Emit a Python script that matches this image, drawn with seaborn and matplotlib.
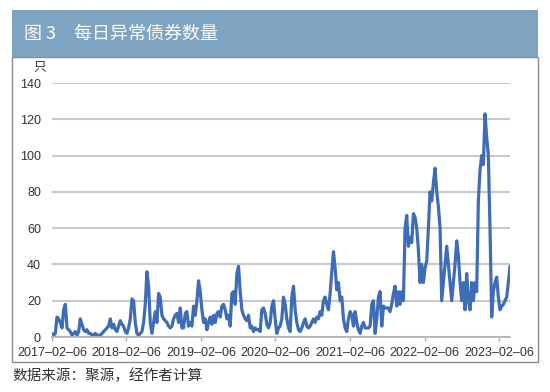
import matplotlib
matplotlib.use("Agg")
import matplotlib.pyplot as plt
from matplotlib.patches import Rectangle
import seaborn as sns
import pandas as pd

# ---- data (approx. every 8 days) ----
start_date = "2017-02-06"
end_date = "2023-04-01"
seg_2017_2019 = [2, 1, 2, 11, 10, 8, 5, 15, 18, 5, 4, 3, 1, 2, 3, 1, 3, 10, 7, 4,
                 3, 4, 2, 2, 1, 1, 2, 1, 1, 1, 2, 3, 4, 5, 6, 10, 5, 7, 4, 3,
                 6, 9, 7, 6, 3, 2, 5, 10, 21, 20, 8, 2, 1, 2, 3, 8, 18, 36, 28, 8,
                 2, 8, 14, 8, 24, 22, 12, 10, 9, 8, 6, 5, 6, 10, 12, 13, 8, 16, 5, 5,
                 13, 14, 6, 8, 6, 17, 12, 20, 31]
seg_2019_2021 = [25, 15, 8, 10, 4, 8, 11, 7, 12, 8, 13, 14, 11, 17, 18, 15, 10, 12, 6, 24,
                 25, 18, 35, 39, 25, 15, 12, 10, 9, 12, 5, 6, 3, 5, 4, 4, 3, 15, 16, 13,
                 7, 5, 8, 17, 20, 10, 2, 5, 6, 10, 22, 18, 10, 5, 3, 22, 28, 15, 8, 4,
                 3, 5, 8, 10, 6, 5, 6, 8, 10, 8, 11, 10, 14, 12, 20, 22, 18, 15, 24, 36,
                 47, 38, 26, 30, 20, 22, 10, 5, 3, 10, 14, 12, 6, 14, 8, 4, 2, 6, 8, 5,
                 5, 5, 6, 18, 20, 2, 10, 22, 25]
seg_2021_2023 = [6, 17, 16, 16, 16, 14, 18, 24, 28, 17, 25, 18, 25, 20, 60, 67, 50, 55, 52, 68,
                 66, 60, 48, 30, 40, 30, 38, 42, 60, 80, 75, 85, 93, 80, 72, 60, 20, 30, 40, 50,
                 40, 30, 20, 30, 40, 53, 45, 30, 20, 30, 15, 35, 20, 15, 30, 20, 30, 25, 75, 92,
                 100, 95, 123, 110, 100, 60, 11, 25, 30, 33, 22, 15, 17, 18, 20, 22, 30, 39]
values = seg_2017_2019 + seg_2019_2021 + seg_2021_2023
tick_dates = ["2017-02-06", "2018-02-06", "2019-02-06", "2020-02-06",
              "2021-02-06", "2022-02-06", "2023-02-06"]
y_ticks = [0, 20, 40, 60, 80, 100, 120, 140]
title_text = "图 3　每日异常债券数量"
y_unit = "只"
source_text = "数据来源：聚源，经作者计算"

dates = pd.date_range(start_date, end_date, periods=len(values))
df = pd.DataFrame({"date": dates, "count": values})

sns.set_theme(style="white")
plt.rcParams["font.family"] = ["Liberation Sans", "Noto Sans CJK SC", "DejaVu Sans"]
cjk = ["Noto Sans CJK SC", "DejaVu Sans"]

fig = plt.figure(figsize=(5.5, 3.92), dpi=100)
fig.patch.set_facecolor("white")

# background axes for title bar and panel frame
bg = fig.add_axes([0, 0, 1, 1])
bg.set_zorder(0)
bg.set_xlim(0, 550)
bg.set_ylim(392, 0)
bg.axis("off")
bg.add_patch(Rectangle((12, 57), 526, 305, facecolor="white", edgecolor="#8a8a8a", lw=1.0))
bg.add_patch(Rectangle((12, 10), 526, 47, facecolor="#7ea4c1", edgecolor="none"))
bg.text(24, 33.5, title_text, color="white", fontsize=13, family=cjk,
        va="center", ha="left")
bg.text(40, 68, y_unit, color="#333333", fontsize=9, family=cjk, va="center", ha="center")
bg.text(12, 376, source_text, color="#333333", fontsize=10.5, family=cjk,
        va="center", ha="left")

ax = fig.add_axes([52/550, 1 - 337/392, 458/550, 254/392])
ax.set_zorder(2)
ax.set_facecolor("none")
sns.lineplot(data=df, x="date", y="count", ax=ax, color="#3f6db5", lw=2.3)

ax.set_ylim(0, 140)
ax.set_xlim(pd.Timestamp(start_date), pd.Timestamp(end_date))
ax.set_yticks(y_ticks)
ax.set_yticklabels([str(v) for v in y_ticks])
ax.set_xticks(pd.to_datetime(tick_dates))
ax.set_xticklabels([d.replace("-", "–") for d in tick_dates])
ax.yaxis.grid(True, color="#c9c9c9", lw=1.5)
ax.xaxis.grid(False)
ax.set_axisbelow(True)
for s in ["top", "right", "left"]:
    ax.spines[s].set_visible(False)
ax.spines["bottom"].set_color("#b0b0b0")
ax.spines["bottom"].set_linewidth(1.2)
ax.tick_params(axis="y", length=0, pad=8, labelsize=9, labelcolor="#333333")
ax.tick_params(axis="x", length=3, width=1, color="#b0b0b0", direction="out",
               pad=4, labelsize=9, labelcolor="#333333", bottom=True)
ax.set_xlabel("")
ax.set_ylabel("")

fig.savefig("out.png", dpi=100)
